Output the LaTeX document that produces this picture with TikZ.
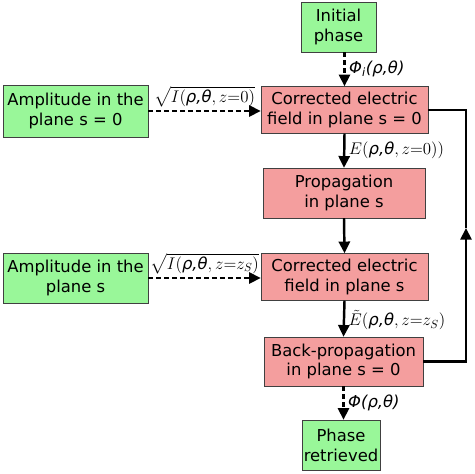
\documentclass[tikz,border=0pt]{standalone}
\usepackage{fontspec}
\usepackage{amsmath}
\setmainfont{DejaVu Sans}
\usetikzlibrary{arrows.meta}
\definecolor{boxgreen}{RGB}{153,247,153}
\definecolor{boxred}{RGB}{244,158,158}
\begin{document}
\begin{tikzpicture}[x=0.03cm,y=-0.03cm,
  box/.style={draw=black!75,align=center,inner sep=1pt,font=\fontsize{14}{17}\selectfont},
  greenbox/.style={box,fill=boxgreen},
  redbox/.style={box,fill=boxred,minimum width=5.01cm,minimum height=1.41cm},
  flow/.style={line width=2.1pt,-{Triangle[length=10pt,width=9.5pt]}},
  dflow/.style={flow,dash pattern=on 4.2pt off 2.6pt},
  lbl/.style={font=\fontsize{14}{16}\selectfont,inner sep=0pt}]
\useasboundingbox (0,0) rectangle (474,474);

\node[greenbox,minimum width=2.25cm,minimum height=1.5cm] (init) at (338.5,27) {Initial\\phase};
\node[redbox] (c0) at (344.5,110) {Corrected electric\\field in plane s = 0};
\node[greenbox,minimum width=4.35cm,minimum height=1.56cm] (a0) at (75.5,111) {Amplitude in the\\plane s = 0};
\node[redbox,minimum width=4.86cm,minimum height=1.5cm] (prop) at (344,193) {Propagation\\in plane s};
\node[redbox] (cs) at (344.5,277) {Corrected electric\\field in plane s};
\node[greenbox,minimum width=4.35cm,minimum height=1.5cm] (as) at (75.5,278) {Amplitude in the\\plane s};
\node[redbox,minimum width=4.77cm,minimum height=1.47cm] (bp) at (343.5,361.5) {Back-propagation\\in plane s = 0};
\node[greenbox,minimum width=2.34cm,minimum height=1.5cm] (res) at (341,445) {Phase\\retrieved};

\draw[dflow] (init.south -| c0) -- (c0.north) node[lbl,midway,right=3pt] {\itshape Φ\textsubscript{i}(ρ,θ)};
\draw[dflow] (a0.east) -- (a0.east -| c0.west) node[lbl,midway,above=2pt] {$\sqrt{I(\text{\itshape ρ,θ},z{=}0)}$};
\draw[flow] (c0.south) -- (prop.north) node[lbl,midway,right=3pt] {$E(\text{\itshape ρ,θ},z{=}0))$};
\draw[flow] (prop.south) -- (cs.north);
\draw[dflow] (as.east) -- (as.east -| cs.west) node[lbl,midway,above=2pt] {$\sqrt{I(\text{\itshape ρ,θ},z{=}z_S)}$};
\draw[flow] (cs.south) -- (bp.north) node[lbl,midway,right=3pt,yshift=-1pt] {$\tilde{E}(\text{\itshape ρ,θ},z{=}z_S)$};
\draw[dflow] (bp.south) -- (bp.south |- res.north) node[lbl,midway,right=3pt] {\itshape Φ(ρ,θ)};

\coordinate (up) at (466,228);
\draw[flow] (bp.east) -| (up);
\draw[line width=2.1pt] (up) |- (c0.east);
\end{tikzpicture}
\end{document}
